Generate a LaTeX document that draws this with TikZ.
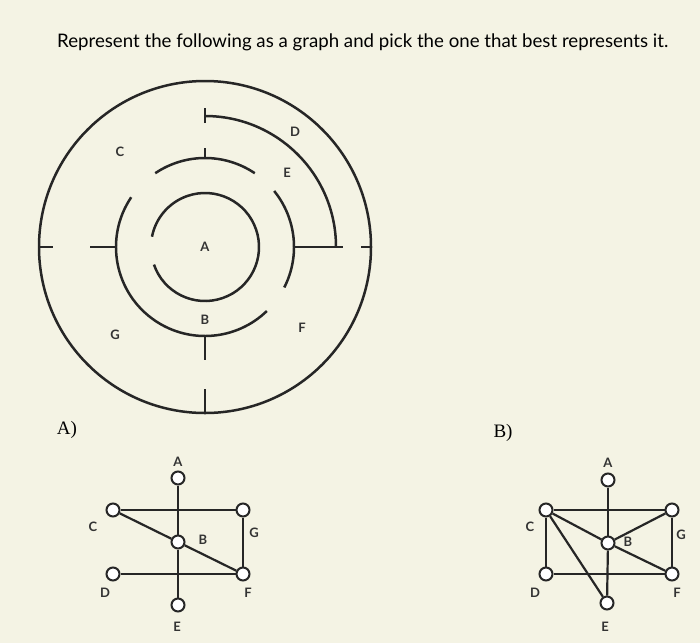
\documentclass[tikz,border=0pt]{standalone}
\usepackage{fontspec}
\setmainfont{Lato}
\newfontfamily\serifx{Liberation Serif}
\usetikzlibrary{backgrounds}
\begin{document}
\begin{tikzpicture}[x=1pt,y=-1pt,
  wall/.style={line width=2.5pt,color=black!85},
  lab/.style={font=\bfseries\fontsize{13}{13}\selectfont,text=black!80},
  vtx/.style={circle,draw=black!85,line width=2pt,fill=white,minimum size=13pt,inner sep=0pt},
  edg/.style={line width=2.2pt,color=black!85}]
\useasboundingbox (0,0) rectangle (700,643);
\node[anchor=west,inner sep=0pt] (title) at (57,42) {\resizebox{611pt}{!}{Represent the following as a graph and pick the one that best represents it.}};
% maze
\begin{scope}[shift={(205,247)}]
\draw[wall] (0,0) circle[radius=166pt];
\draw[wall] (-161:54pt) arc[start angle=-161,end angle=169,radius=54pt];
\draw[wall] (146:89pt) arc[start angle=146,end angle=314,radius=89pt];
\draw[wall] (-27:89pt) arc[start angle=-27,end angle=39,radius=89pt];
\draw[wall] (56:89pt) arc[start angle=56,end angle=124,radius=89pt];
\draw[wall] (90:89pt) -- (90:99pt);
\draw[wall] (180:89pt) -- (180:115pt);
\draw[wall] (270:89pt) -- (270:113pt);
\draw[wall] (0:89pt) -- (0:138pt);
\draw[wall] (0:131pt) arc[start angle=0,end angle=90,radius=131pt];
\draw[wall] (90:124pt) -- (90:139pt);
\draw[wall] (180:166pt) -- (180:152pt);
\draw[wall] (0:166pt) -- (0:156pt);
\draw[wall] (270:166pt) -- (270:142pt);
\end{scope}
\node[lab] (mA) at (205,247) {A};
\node[lab] (mB) at (205,320) {B};
\node[lab] (mC) at (120,152) {C};
\node[lab] (mD) at (295,132) {D};
\node[lab] (mE) at (287,173) {E};
\node[lab] (mF) at (302,328) {F};
\node[lab] (mG) at (115,335) {G};
\node[font=\serifx\fontsize{19}{19}\selectfont] (optA) at (67,430) {A)};
\node[font=\serifx\fontsize{19}{19}\selectfont] (optB) at (503,433) {B)};
% graph A
\node[vtx] (a) at (178,478) {};
\node[vtx] (c) at (113,510) {};
\node[vtx] (g) at (243,510) {};
\node[vtx] (b) at (178,542) {};
\node[vtx] (d) at (113,574) {};
\node[vtx] (f) at (243,574) {};
\node[vtx] (e) at (178,605) {};
\node[lab] (la) at (178,462) {A};
\node[lab] (lc) at (93,527) {C};
\node[lab] (lg) at (254,533) {G};
\node[lab] (lb) at (203,540) {B};
\node[lab] (ld) at (105,593) {D};
\node[lab] (lf) at (248,593) {F};
\node[lab] (le) at (177,627) {E};
% graph B
\node[vtx] (A2) at (608,480) {};
\node[vtx] (C2) at (546,510) {};
\node[vtx] (G2) at (672,510) {};
\node[vtx] (B2) at (608,543) {};
\node[vtx] (D2) at (546,574) {};
\node[vtx] (F2) at (672,574) {};
\node[vtx] (E2) at (607,603) {};
\node[lab] (lA2) at (608,463) {A};
\node[lab] (lC2) at (530,527) {C};
\node[lab] (lG2) at (681,535) {G};
\node[lab] (lB2) at (628,542) {B};
\node[lab] (lD2) at (535,593) {D};
\node[lab] (lF2) at (677,593) {F};
\node[lab] (lE2) at (605,627) {E};
\begin{pgfonlayer}{background}
\fill[white!93!yellow!90!gray] (0,0) rectangle (700,643);
\draw[edg] (c) -- (g); \draw[edg] (a) -- (b); \draw[edg] (b) -- (e);
\draw[edg] (c) -- (b); \draw[edg] (b) -- (f); \draw[edg] (d) -- (f); \draw[edg] (g) -- (f);
\draw[edg] (C2) -- (G2); \draw[edg] (C2) -- (D2); \draw[edg] (C2) -- (B2); \draw[edg] (C2) -- (E2);
\draw[edg] (A2) -- (B2); \draw[edg] (B2) -- (E2); \draw[edg] (B2) -- (G2); \draw[edg] (B2) -- (F2);
\draw[edg] (D2) -- (F2); \draw[edg] (G2) -- (F2);
\end{pgfonlayer}
\end{tikzpicture}
\end{document}
